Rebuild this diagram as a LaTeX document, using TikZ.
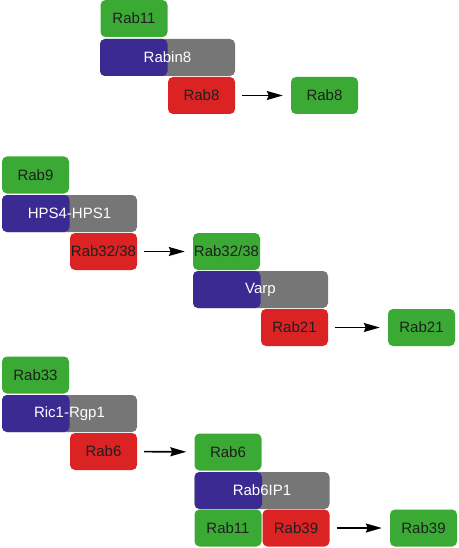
\documentclass[tikz,border=0pt]{standalone}
\usepackage{fontspec}
\setmainfont{Liberation Sans}
\usetikzlibrary{arrows.meta}
\definecolor{rgreen}{RGB}{58,170,53}
\definecolor{rred}{RGB}{220,35,35}
\definecolor{rblue}{RGB}{58,42,145}
\definecolor{rgray}{RGB}{118,118,118}
\begin{document}
\begin{tikzpicture}[x=1pt,y=-1pt,
  box/.style={rounded corners=5pt, minimum height=37pt, inner sep=0pt,
    font=\fontsize{15}{17}\selectfont, text=black!88},
  gbox/.style={box, fill=rgreen, minimum width=67pt},
  rbox/.style={box, fill=rred, minimum width=67pt},
  wbox/.style={box, fill=rgray, text=white, minimum width=135pt,
    path picture={\fill[rblue] (path picture bounding box.south west) rectangle (path picture bounding box.north);}},
  arr/.style={-{Stealth[length=16pt,width=9pt,inset=2pt]}, line width=1.6pt, shorten <=7pt, shorten >=8pt}]
\useasboundingbox (0,0) rectangle (458,548);
% top group
\node[gbox] (a11) at (134,18.5) {Rab11};
\node[wbox] (rabin) at (167.5,57.5) {Rabin8};
\node[rbox] (a8r) at (201.5,95.5) {Rab8};
\node[gbox] (a8g) at (324.5,95.5) {Rab8};
\draw[arr] (a8r) -- (a8g);
% middle group
\node[gbox] (b9) at (35.5,175) {Rab9};
\node[wbox] (hps) at (69.5,213.5) {HPS4-HPS1};
\node[rbox] (b32r) at (103.5,251.5) {Rab32/38};
\node[gbox] (b32g) at (226.5,251.5) {Rab32/38};
\node[wbox] (varp) at (260.5,289.5) {Varp};
\node[rbox] (b21r) at (294.5,327.5) {Rab21};
\node[gbox] (b21g) at (421.5,327.5) {Rab21};
\draw[arr] (b32r) -- (b32g);
\draw[arr] (b21r) -- (b21g);
% bottom group
\node[gbox] (c33) at (35.5,375) {Rab33};
\node[wbox] (ric) at (69.5,413.5) {Ric1-Rgp1};
\node[rbox] (c6r) at (103.5,451.5) {Rab6};
\node[gbox] (c6g) at (228,452) {Rab6};
\node[wbox] (ip1) at (262,490.5) {Rab6IP1};
\node[gbox] (c11) at (228,528) {Rab11};
\node[rbox] (c39r) at (296,528) {Rab39};
\node[gbox] (c39g) at (423.5,528) {Rab39};
\draw[arr] (c6r) -- (c6g);
\draw[arr] (c39r) -- (c39g);
\end{tikzpicture}
\end{document}
